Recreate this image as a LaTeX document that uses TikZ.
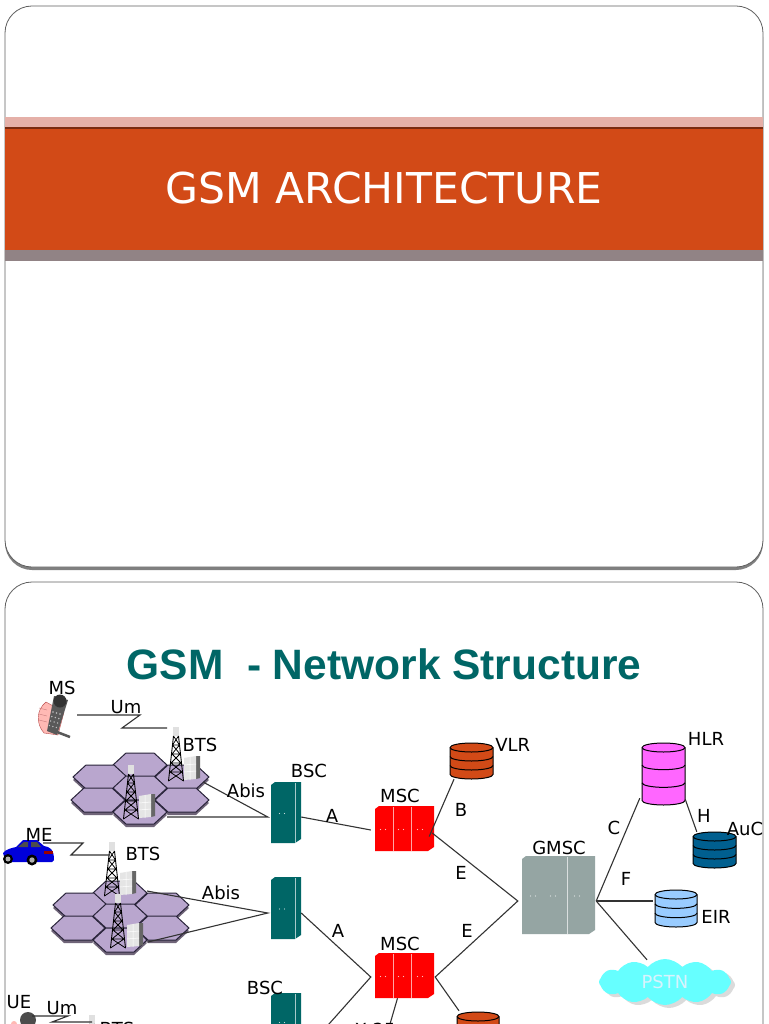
\documentclass[tikz,border=0pt]{standalone}
\usepackage{fontspec}
\setmainfont{DejaVu Sans}
\newfontfamily\headfont{Liberation Sans}
\usetikzlibrary{positioning,calc,shapes.symbols}

\definecolor{slideline}{HTML}{5F5F5F}
\definecolor{bandpale}{HTML}{E5B0A8}
\definecolor{bandorange}{HTML}{D24A17}
\definecolor{banddark}{HTML}{7A2A10}
\definecolor{bandgrey}{HTML}{918385}
\definecolor{headteal}{HTML}{006666}
\definecolor{hexfill}{HTML}{B9A6CE}
\definecolor{hexedge}{HTML}{29243A}
\definecolor{hexshade}{HTML}{6F6478}
\definecolor{msred}{HTML}{FF0000}
\definecolor{gmscgrey}{HTML}{95A5A3}
\definecolor{drumorange}{HTML}{D24A17}
\definecolor{drumpink}{HTML}{FF66FF}
\definecolor{drumblue}{HTML}{005F8F}
\definecolor{drumpale}{HTML}{99CCFF}
\definecolor{cloudcyan}{HTML}{66FFFF}
\definecolor{handpink}{HTML}{FFB9B4}

% name, left, top, right, bottom, colour, dividers, dots
\newcommand{\rackbox}[8]{
	\fill[#6] (#2,#3+3) -- (#2+4,#3) -- (#4,#3) -- (#4,#5-4) -- (#4-6,#5) -- (#2,#5) -- cycle;
	\foreach \dv in {#7} \draw[white!65!#6,line width=.7pt] (\dv,#3+1) -- (\dv,#5);
	\node (#1) [rectangle,minimum width=#4pt-#2pt,minimum height=#5pt-#3pt,inner sep=0pt] at ({(#2+#4)/2},{(#3+#5)/2}) {};
	\foreach \dv in {#8} \fill[white!75!#6] (\dv-2.5,{(#3+#5)/2+1}) circle (.6) (\dv+2.5,{(#3+#5)/2+1}) circle (.6);
}
% name, left, top, right, bottom, colour
\newcommand{\dbdrum}[6]{
	\draw[black,fill=#6,line width=1pt] (#2,#3+4.5) -- (#2,#5-4.5) arc[start angle=180,end angle=0,x radius={(#4-#2)/2},y radius=4.5]
		-- (#4,#3+4.5) arc[start angle=0,end angle=-180,x radius={(#4-#2)/2},y radius=4.5] -- cycle;
	\draw[black,line width=1pt] (#2,#3+4.5) arc[start angle=180,end angle=0,x radius={(#4-#2)/2},y radius=4.5];
	\foreach \bd in {1,2} \draw[black,line width=1pt] (#2,{#3+4.5+\bd*(#5-#3-9)/3}) arc[start angle=180,end angle=0,x radius={(#4-#2)/2},y radius=4.5];
	\node (#1) [rectangle,minimum width=#4pt-#2pt,minimum height=#5pt-#3pt,inner sep=0pt] at ({(#2+#4)/2},{(#3+#5)/2}) {};
}

\begin{document}
\begin{tikzpicture}[x=1pt,y=-1pt,
		lbl/.style={inner sep=0pt,text=black,font=\fontsize{18}{20}\selectfont},
		wire/.style={draw=black!80,line width=1.1pt},
		slide/.style={draw=slideline,line width=.8pt,rounded corners=27pt,fill=white},
		hexcell/.pic={
			\draw[hexedge,fill=hexfill,line width=1pt] (-27,0) -- (-14,-12) -- (14,-12) -- (27,0) -- (14,12) -- (-14,12) -- cycle;
		},
		hexbase/.pic={
			\fill[hexshade] (-27,3) -- (-14,-9) -- (14,-9) -- (27,3) -- (14,15) -- (-14,15) -- cycle;
		},
		hexcluster/.pic={
			\foreach \hx/\hy in {0/-23,-40/-11,42/-11,0/0,-42/12,42/12,0/24} \pic at (\hx,\hy) {hexbase};
			\foreach \hx/\hy in {0/-23,-40/-11,42/-11,0/0,-42/12,42/12,0/24} \pic at (\hx,\hy) {hexcell};
		},
		lattice/.pic={
			\fill[white!88!black] (-3,0) rectangle (3,9);
			\draw[black,line width=.9pt] (-2.5,9) -- (-7.5,54) (2.5,9) -- (7.5,54);
			\draw[black,line width=.8pt] (-2.5,9) -- (3.5,18) -- (-4,27) -- (5,36) -- (-6,45) -- (7.5,54)
				(2.5,9) -- (-3.5,18) -- (4,27) -- (-5,36) -- (6,45) -- (-7.5,54)
				(-3.5,18) -- (3.5,18) (-4,27) -- (4,27) (-5,36) -- (5,36) (-6,45) -- (6,45);
		},
		radiocab/.pic={
			\fill[black!60] (12,0) -- (16,0) -- (16,22) -- (12,23) -- cycle;
			\fill[black!10] (0,2) -- (12,0) -- (12,23) -- (0,24) -- cycle;
			\draw[white,line width=.5pt] (6,1) -- (6,24) (0,9) -- (12,8) (0,16) -- (12,15);
		}]
	\useasboundingbox (0,0) rectangle (768,1024);
	\clip (0,0) rectangle (768,1024);

	% two slides
	\fill[black!50,rounded corners=27pt] (5,10) rectangle (763,570);
	\draw[slide] (5,6) rectangle (763,567);
	\draw[slide] (5,582) rectangle (763,1060);

	% title slide
	\fill[bandpale] (5,117) rectangle (763,127);
	\fill[banddark] (5,127) rectangle (763,129);
	\fill[bandorange] (5,129) rectangle (763,249.5);
	\fill[bandgrey] (5,249.5) rectangle (763,261);
	\node (TITLE) [inner sep=0pt,text=white,font=\fontsize{42.5}{46}\selectfont] at (384,188) {GSM ARCHITECTURE};
	\node (HEAD) [inner sep=0pt,text=headteal,font=\headfont\bfseries\fontsize{42.5}{46}\selectfont] at (384,664) {GSM\ \ - Network Structure};

	% cells and radio sites
	\pic at (140,788) {hexcluster};
	\pic at (120,916) {hexcluster};
	\pic at (176,727) {lattice};
	\pic at (184,756) {radiocab};
	\pic at (131,765) {lattice};
	\pic at (139,794) {radiocab};
	\pic at (112,842) {lattice};
	\pic at (120,871) {radiocab};
	\pic at (118,894) {lattice};
	\pic at (127,923) {radiocab};
	\pic at (92,1015) {lattice};

	% handset
	\draw[red!60!black!70,fill=handpink,line width=.4pt] (46,702) .. controls (36,710) and (36,724) .. (44,733) -- (58,735) -- (64,712) -- cycle;
	\foreach \fy in {708,714,720} \draw[red!60!black!50,line width=.4pt] (39,\fy) -- (47,\fy+2);
	\fill[black!65] (54,696) -- (68,700) -- (57,735) -- (47,731) -- cycle;
	\fill[black!80] (60,701) circle (6.5);
	\draw[black!65,line width=2.5pt] (57,732) -- (70,737);
	\foreach \kx in {0,1,2} \foreach \ky in {0,1,2,3}
		\fill[black!25] ({53+\kx*3.5-\ky*1.2},{712+\ky*4.5+\kx*1}) circle (.8);

	% car
	\fill[blue!85!black] (3,853) .. controls (6,849) and (12,848) .. (16,847) -- (23,840) -- (37,840) -- (44,846) .. controls (50,847) and (54,849) .. (54,860) -- (52,862) -- (6,862) -- cycle;
	\fill[black!70] (18,847) -- (24,842) -- (28,842) -- (28,847) -- cycle (31,842) -- (37,842) -- (41,847) -- (31,847) -- cycle;
	\fill[red!60!black] (44,851) rectangle (53,854);
	\fill[black] (8,859) circle (5) (32,860) circle (5.5);
	\fill[black!30] (8,859) circle (2.5) (32,860) circle (2.7);

	% bottom handset, cut by the page
	\fill[black!70] (28,1020) circle (8);
	\fill[handpink] (14,1024) circle (3);

	% switches and registers
	\rackbox{BSCa}{271}{782}{301}{843}{headteal}{295}{282}
	\rackbox{BSCb}{271}{877}{301}{939}{headteal}{295}{282}
	\rackbox{BSCc}{271}{993}{301}{1050}{headteal}{295}{282}
	\rackbox{MSCa}{375}{806}{434}{851}{msred}{393,411}{383,401,420}
	\rackbox{MSCb}{375}{953}{434}{998}{msred}{393,411}{383,401,420}
	\rackbox{GMSC}{522}{856}{595}{934}{gmscgrey}{567}{533,553,577}
	\dbdrum{VLR}{450}{743}{493}{779}{drumorange}
	\dbdrum{SGSN}{457}{1012}{499}{1048}{drumorange}
	\dbdrum{HLR}{642}{743}{685}{805}{drumpink}
	\dbdrum{AUC}{693}{832}{736}{868}{drumblue}
	\dbdrum{EIR}{655}{890}{697}{927}{drumpale}

	\node (PSTNS) [cloud,cloud puffs=12,cloud puff arc=100,aspect=2.7,fill=black!14,minimum width=132pt,minimum height=46pt,inner sep=0pt] at (669,985) {};
	\node (PSTN) [cloud,cloud puffs=12,cloud puff arc=100,aspect=2.7,fill=cloudcyan,minimum width=132pt,minimum height=46pt,inner sep=0pt,text=white!85!cyan,font=\fontsize{18}{20}\selectfont] at (665,982) {PSTN};

	% free ends of the air and cell links
	\coordinate (PHa) at (77,715);
	\coordinate (TWa) at (167,728);
	\coordinate (CARa) at (43,843);
	\coordinate (TWb) at (110,855);
	\coordinate (PHc) at (32,1016);
	\coordinate (TWc) at (92,1022);
	\coordinate (CLa) at (203,782);
	\coordinate (CLb) at (167,817);
	\coordinate (CLc) at (147,891);
	\coordinate (CLd) at (148,942);
	\coordinate (BSa) at ([xshift=-3pt,yshift=-4.5pt]BSCa.west);
	\coordinate (BSb) at ([xshift=-3pt,yshift=-5pt]BSCb.west);
	\coordinate (MAin) at ([xshift=-4pt,yshift=-1.5pt]MSCa.west);
	\coordinate (MBin) at ([xshift=-4pt,yshift=-1.5pt]MSCb.west);
	\coordinate (MBout) at ([xshift=1pt,yshift=-1.5pt]MSCb.east);
	\coordinate (GMin) at ([xshift=-4pt,yshift=-6pt]GMSC.west);
	\coordinate (GMout) at ([xshift=1pt,yshift=-6pt]GMSC.east);
	\coordinate (XTF) at (390,1024);

	\draw[wire] (PHa) -- ++(63,0) -- ++(-18,13) -- (TWa);
	\draw[wire] (CARa) -- ++(40,0) -- ++(-12,12) -- (TWb);
	\draw[wire] (PHc) -- ++(36,0) -- ++(-16,6) -- (TWc);
	\draw[wire] (CLa) -- (BSa) -- (CLb);
	\draw[wire] (CLc) -- (BSb) -- (CLd);
	\draw[wire] ([yshift=-4.5pt]BSCa.east) -- (MAin);
	\draw[wire] ([yshift=-5pt]BSCb.east) -- (MBin) -- ([xshift=6pt,yshift=-27pt]BSCc.east);
	\draw[wire] (VLR.south) ++(-17.5pt,0) -- ([xshift=-5pt,yshift=-8pt]MSCa.east);
	\draw[wire] ([xshift=-2pt,yshift=-4.5pt]MSCa.east) -- (GMin) -- (MBout) -- ([xshift=-19pt,yshift=1pt]SGSN.north);
	\draw[wire] ([xshift=-7pt]MSCb.south) -- (XTF);
	\draw[wire] (GMout) -- ([xshift=-2pt,yshift=7pt]HLR.south west);
	\draw[wire] (GMout) -- ([xshift=-2pt]GMout-|EIR.west);
	\draw[wire] (GMout) -- ([xshift=-18pt,yshift=-1pt]PSTN.north);
	\draw[wire] ([yshift=6pt]HLR.south east) -- ([xshift=4pt]AUC.north west);

	% labels
	\node (MSL) [lbl] at (62,688) {MS};
	\node (UMa) [lbl] at (126,707) {Um};
	\node (BTSa) [lbl] at (200,745) {BTS};
	\node (ABa) [lbl] at (246,791) {Abis};
	\node (BSCaL) [lbl] at (309,771) {BSC};
	\node (Aa) [lbl] at (332,816) {A};
	\node (MSCaL) [lbl] at (400,796) {MSC};
	\node (VLRL) [lbl,right=2pt of VLR,yshift=16pt] {VLR};
	\node (Bb) [lbl] at (461,810) {B};
	\node (Ea) [lbl] at (461,873) {E};
	\node (Eb) [lbl] at (467,931) {E};
	\node (Ab) [lbl] at (338,931) {A};
	\node (MSCbL) [lbl] at (400,944) {MSC};
	\node (GMSCL) [lbl] at (559,848) {GMSC};
	\node (Cc) [lbl] at (614,828) {C};
	\node (Ff) [lbl] at (626,879) {F};
	\node (Hh) [lbl] at (704,816) {H};
	\node (HLRL) [lbl] at (706,739) {HLR};
	\node (AUCL) [lbl] at (745,829) {AuC};
	\node (EIRL) [lbl] at (716,917) {EIR};
	\node (MEL) [lbl] at (39,835) {ME};
	\node (BTSb) [lbl] at (143,854) {BTS};
	\node (ABb) [lbl] at (221,893) {Abis};
	\node (BSCcL) [lbl] at (265,988) {BSC};
	\node (UEL) [lbl] at (19,1002) {UE};
	\node (UMc) [lbl] at (62,1008) {Um};
	\node (BTSc) [lbl] at (117,1029) {BTS};
	\node (XTFL) [lbl] at (375,1030) {X.25};
\end{tikzpicture}
\end{document}
